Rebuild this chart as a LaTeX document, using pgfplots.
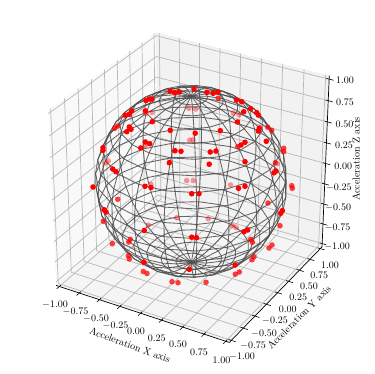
\documentclass[border=0pt]{standalone}
\usepackage{pgfplots}
\usepackage{pgfplotstable}
\pgfplotsset{compat=1.18}
\newcommand\PD[3]{(1-.0528*(.433*(#1)-.75*(#2)+.5*(#3)))}
\newcommand\PX[3]{191.3+96*(.866*(#1)+.5*(#2))/\PD{#1}{#2}{#3}}
\newcommand\PY[3]{181.5-96*(-.25*(#1)+.433*(#2)+.866*(#3))/\PD{#1}{#2}{#3}}
\pgfplotsset{table/proj/.style={x expr={\PX{\thisrow{x}}{\thisrow{y}}{\thisrow{z}}}, y expr={\PY{\thisrow{x}}{\thisrow{y}}{\thisrow{z}}}}}
\pgfplotstableread{
c s
1 0
.9458 .3247
.7891 .6142
.5469 .8372
.2455 .9694
-.0826 .9966
-.4017 .9158
-.6773 .7357
-.8795 .4759
-.9864 .1646
-.9864 -.1646
-.8795 -.4759
-.6773 -.7357
-.4017 -.9158
-.0826 -.9966
.2455 -.9694
.5469 -.8372
.7891 -.6142
.9458 -.3247
1 0
}\ringtab
\pgfplotstableread{
r z
0 1
.1646 .9864
.3247 .9458
.4759 .8795
.6142 .7891
.7357 .6773
.8372 .5469
.9158 .4017
.9694 .2455
.9966 .0826
.9966 -.0826
.9694 -.2455
.9158 -.4017
.8372 -.5469
.7357 -.6773
.6142 -.7891
.4759 -.8795
.3247 -.9458
.1646 -.9864
0 -1
}\meridtab
\pgfplotstableread{
a b
-1.0417 0
1.0417 0
}\segtab
\pgfplotstableread{
x y
170 91.3
174.5 92.5
179.3 92
194 89
207 92.3
213 93.3
218 92
146 100.5
149.3 99
152 99.3
131.7 111
129.3 114.3
125.3 115.3
145.5 110.8
152.3 121.7
129.3 127
131 129.3
126.7 131.7
170.3 130.3
145.3 142
149.7 143.7
140.7 148
175 150.7
181 151.3
169.3 162.7
103 147.7
103 150.3
112.7 169
116 171.7
236.5 100
241.7 101.7
250.7 108.7
256.7 112.7
258.3 115
243.7 111.7
237.5 122
259.3 128
258.3 131
220.3 130.7
195.2 133.2
266.3 141.3
245 142.3
241 145
210.2 152
216 151
209.2 164.2
245 161.7
274 172.7
276 171
93 187
145 186.3
151 187.5
191.7 193.7
199 193.7
238.5 188.3
245 186.3
104 209.7
106 212
144.3 230.5
282.3 210.7
280.7 213.3
247.7 230
244 231.7
191.7 237.2
196.5 237.7
143.8 262.3
189.3 269.3
235.2 265
}\ptsA
\pgfplotstableread{
x y
218.3 98.2
117.7 126
114.7 128.3
267.7 127.3
271.7 130.3
237.7 146.7
283.7 148.3
283.7 151.7
275.3 162.7
117.7 199.3
103.3 221.3
280 225.7
268 203
112.3 243.7
130.3 239.3
128.7 242
250.7 239.3
252.3 242.3
272 245
269 248
128.3 255.7
129.3 259
254 256.7
252 259.7
143.3 271.5
147 273.5
239.3 272
235.3 274.2
172 281.7
178 282.7
206 282.3
291.7 185.7
292.3 188.3
}\ptsB
\pgfplotstableread{
x y
152 112.5
145.8 113.7
188.7 108.3
195.7 109
233.3 113
239 114.7
145 146
108.3 161
105.7 163
189.7 140.2
193 139.8
277.3 163.7
151 184.3
186.7 180.5
193.3 180.5
230.5 185
176.7 217.7
208.3 218.7
148.3 225.2
232.3 225.7
236.3 227.7
}\ptsC
\definecolor{gridc}{HTML}{B8B8B8}
\definecolor{paneL}{gray}{.975}
\definecolor{paneB}{gray}{.95}
\definecolor{paneF}{gray}{.9625}
\definecolor{wirec}{gray}{.3}
\begin{document}
\begin{tikzpicture}
\begin{axis}[
  scale only axis, width=374pt, height=374pt,
  xmin=0, xmax=374, ymin=0, ymax=374, y dir=reverse,
  hide axis, clip=false,
  pane/.style={draw=none, no markers, forget plot},
]
\path (axis cs:0,0) rectangle (axis cs:374,374);
% panes
\addplot[pane, fill=paneL] table[proj] {
x y z
-1.0417 -1.0417 -1.0417
-1.0417 1.0417 -1.0417
-1.0417 1.0417 1.0417
-1.0417 -1.0417 1.0417
} -- cycle;
\addplot[pane, fill=paneB] table[proj] {
x y z
-1.0417 1.0417 -1.0417
1.0417 1.0417 -1.0417
1.0417 1.0417 1.0417
-1.0417 1.0417 1.0417
} -- cycle;
\addplot[pane, fill=paneF] table[proj] {
x y z
-1.0417 -1.0417 -1.0417
1.0417 -1.0417 -1.0417
1.0417 1.0417 -1.0417
-1.0417 1.0417 -1.0417
} -- cycle;
% grid and ticks
\foreach \tk in {-1,-.75,-.5,-.25,0,.25,.5,.75,1} {
  \addplot[gridc, line width=.7pt, no markers] table[x expr={\PX{\tk}{-\thisrow{a}}{-1.0417}}, y expr={\PY{\tk}{-\thisrow{a}}{-1.0417}}] {\segtab};
  \addplot[gridc, line width=.7pt, no markers] table[x expr={\PX{\thisrow{a}}{\tk}{-1.0417}}, y expr={\PY{\thisrow{a}}{\tk}{-1.0417}}] {\segtab};
  \addplot[gridc, line width=.7pt, no markers] table[x expr={\PX{-1.0417}{\tk}{\thisrow{a}}}, y expr={\PY{-1.0417}{\tk}{\thisrow{a}}}] {\segtab};
  \addplot[gridc, line width=.7pt, no markers] table[x expr={\PX{-1.0417}{\thisrow{a}}{\tk}}, y expr={\PY{-1.0417}{\thisrow{a}}{\tk}}] {\segtab};
  \addplot[gridc, line width=.7pt, no markers] table[x expr={\PX{\tk}{1.0417}{\thisrow{a}}}, y expr={\PY{\tk}{1.0417}{\thisrow{a}}}] {\segtab};
  \addplot[gridc, line width=.7pt, no markers] table[x expr={\PX{\thisrow{a}}{1.0417}{\tk}}, y expr={\PY{\thisrow{a}}{1.0417}{\tk}}] {\segtab};
  % ticks
  \addplot[black, line width=.6pt, no markers] table[x expr={\PX{\tk}{-1.0417+.04*(1+\thisrow{a})-.05}{-1.0417}}, y expr={\PY{\tk}{-1.0417+.04*(1+\thisrow{a})-.05}{-1.0417}}] {\segtab};
  \addplot[black, line width=.6pt, no markers] table[x expr={\PX{1.0417-.04*(1+\thisrow{a})+.05}{\tk}{-1.0417}}, y expr={\PY{1.0417-.04*(1+\thisrow{a})+.05}{\tk}{-1.0417}}] {\segtab};
  \addplot[black, line width=.6pt, no markers] table[x expr={\PX{1.0417-.04*(1+\thisrow{a})+.05}{1.0417}{\tk}}, y expr={\PY{1.0417-.04*(1+\thisrow{a})+.05}{1.0417}{\tk}}] {\segtab};
}
% axis lines
\addplot[black, line width=.7pt, no markers] table[x expr={\PX{\thisrow{a}}{-1.0417}{-1.0417}}, y expr={\PY{\thisrow{a}}{-1.0417}{-1.0417}}] {\segtab};
\addplot[black, line width=.7pt, no markers] table[x expr={\PX{1.0417}{\thisrow{a}}{-1.0417}}, y expr={\PY{1.0417}{\thisrow{a}}{-1.0417}}] {\segtab};
\addplot[black, line width=.7pt, no markers] table[x expr={\PX{1.0417}{1.0417}{\thisrow{a}}}, y expr={\PY{1.0417}{1.0417}{\thisrow{a}}}] {\segtab};
% wireframe
\foreach \rr/\zz in {.1646/.9864,.3247/.9458,.4759/.8795,.6142/.7891,.7357/.6773,.8372/.5469,.9158/.4017,.9694/.2455,.9966/.0826,.9966/-.0826,.9694/-.2455,.9158/-.4017,.8372/-.5469,.7357/-.6773,.6142/-.7891,.4759/-.8795,.3247/-.9458,.1646/-.9864} {
  \addplot[wirec, opacity=.85, line width=.85pt, no markers] table[x expr={\PX{\rr*\thisrow{c}}{\rr*\thisrow{s}}{\zz}}, y expr={\PY{\rr*\thisrow{c}}{\rr*\thisrow{s}}{\zz}}] {\ringtab};
}
\foreach \cu/\su in {1/0,.9458/.3247,.7891/.6142,.5469/.8372,.2455/.9694,-.0826/.9966,-.4017/.9158,-.6773/.7357,-.8795/.4759,-.9864/.1646,-.9864/-.1646,-.8795/-.4759,-.6773/-.7357,-.4017/-.9158,-.0826/-.9966,.2455/-.9694,.5469/-.8372,.7891/-.6142,.9458/-.3247} {
  \addplot[wirec, opacity=.85, line width=.85pt, no markers] table[x expr={\PX{\cu*\thisrow{r}}{\su*\thisrow{r}}{\thisrow{z}}}, y expr={\PY{\cu*\thisrow{r}}{\su*\thisrow{r}}{\thisrow{z}}}] {\meridtab};
}
% points
\addplot[red, only marks, mark=*, mark size=2.8pt, mark options={fill=red, draw opacity=0, fill opacity=.4}] table[x=x,y=y] {\ptsC};
\addplot[red, only marks, mark=*, mark size=2.8pt, mark options={fill=red, draw opacity=0, fill opacity=.75}] table[x=x,y=y] {\ptsB};
\addplot[red, only marks, mark=*, mark size=2.8pt, mark options={fill=red, draw opacity=0}] table[x=x,y=y] {\ptsA};
% tick labels
\foreach \px/\py/\sss in {55/305/$-1.00$,75.5/311.7/$-0.75$,96/318.3/$-0.50$,115.5/325.7/$-0.25$,136/331.7/$0.00$,156.7/338/$0.25$,178/344.5/$0.50$,199/352/$0.75$,221.6/360/$1.00$,
  330/265/$1.00$,319.3/275.7/$0.75$,309/286.7/$0.50$,298.3/297.7/$0.25$,287.7/309/$0.00$,275/320.7/$-0.25$,264/333.3/$-0.50$,253/345.5/$-0.75$,242/357/$-1.00$} {
  \edef\tmp{\noexpand\node[inner sep=0pt, anchor=center] at (axis cs:\px,\py) {\sss};}\tmp
}
\foreach \px/\py/\sss in {354/80.5/$1.00$,354/102.5/$0.75$,353.6/124.5/$0.50$,353/145.5/$0.25$,352.4/166.5/$0.00$,351.8/188/$-0.25$,351.2/208/$-0.50$,350.6/227.5/$-0.75$,350/247/$-1.00$} {
  \edef\tmp{\noexpand\node[inner sep=0pt, anchor=east] at (axis cs:\px,\py) {\sss};}\tmp
}
\node[rotate=-20, inner sep=0pt] at (axis cs:130,345) {Acceleration X axis};
\node[rotate=45, inner sep=0pt] at (axis cs:299,317) {Acceleration Y axis};
\node[rotate=90, inner sep=0pt] at (axis cs:356,159) {Acceleration Z axis};
\end{axis}
\end{tikzpicture}
\end{document}
